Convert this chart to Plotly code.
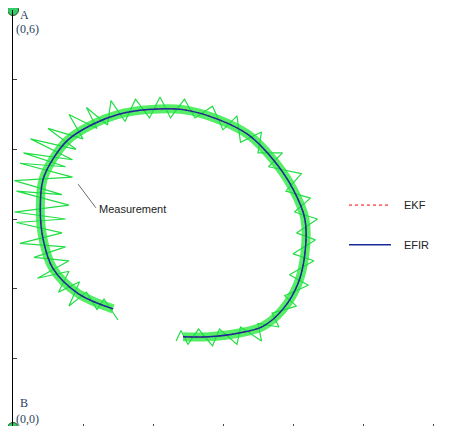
import plotly.graph_objects as go

# EFIR / EKF estimated trajectory (data units)
est_x = [1.43, 0.93, 0.57, 0.43, 0.39, 0.43, 0.57, 0.79, 1.14, 1.50, 1.93, 2.43,
         2.93, 3.36, 3.71, 4.00, 4.17, 4.17, 4.07, 3.86, 3.57, 3.21, 2.79, 2.43]
est_y = [1.71, 1.93, 2.29, 2.71, 3.14, 3.57, 3.86, 4.14, 4.36, 4.50, 4.57, 4.57,
         4.43, 4.21, 3.86, 3.43, 3.00, 2.50, 2.07, 1.71, 1.46, 1.36, 1.31, 1.31]

meas_x = [1.50, 1.30, 1.20, 1.05, 0.80, 0.95, 0.65, 0.80, 0.35, 0.80, 0.30, 0.75,
          0.10, 0.70, 0.05, 0.75, 0.02, 0.80, 0.05, 0.70, 0.02, 0.85, 0.10, 0.75,
          0.15, 0.85, 0.25, 0.90, 0.50, 1.00, 0.80, 1.20, 1.05, 1.35, 1.40, 1.60,
          1.75, 1.95, 2.10, 2.25, 2.45, 2.60, 2.85, 3.00, 3.20, 3.25, 3.55, 3.50,
          3.85, 3.65, 4.12, 3.90, 4.25, 4.02, 4.35, 4.05, 4.32, 4.00, 4.30, 3.95,
          4.22, 3.88, 4.05, 3.70, 3.80, 3.50, 3.55, 3.25, 3.20, 2.95, 2.85, 2.65,
          2.50, 2.40, 2.33]
meas_y = [1.55, 1.85, 1.70, 1.95, 1.75, 2.10, 1.95, 2.25, 2.15, 2.40, 2.45, 2.60,
          2.65, 2.80, 2.95, 3.00, 3.10, 3.20, 3.40, 3.35, 3.55, 3.60, 3.80, 3.75,
          3.95, 3.85, 4.15, 4.00, 4.30, 4.15, 4.50, 4.30, 4.60, 4.35, 4.70, 4.40,
          4.72, 4.45, 4.75, 4.45, 4.72, 4.45, 4.62, 4.28, 4.48, 4.10, 4.25, 3.95,
          3.95, 3.75, 3.65, 3.40, 3.30, 3.10, 3.00, 2.80, 2.70, 2.50, 2.40, 2.20,
          2.05, 1.90, 1.75, 1.65, 1.45, 1.50, 1.25, 1.45, 1.20, 1.42, 1.18, 1.42,
          1.20, 1.40, 1.25]

point_x = [0, 0]
point_y = [6, 0]
point_labels = ["A", "B"]
point_coords = ["(0,6)", "(0,0)"]

fig = go.Figure()
fig.add_trace(go.Scatter(x=est_x, y=est_y, mode="lines", line=dict(color="#55ee66", width=9),
                         line_shape="spline", hoverinfo="skip"))
fig.add_trace(go.Scatter(x=meas_x, y=meas_y, mode="lines", line=dict(color="#22dd44", width=1.2)))
fig.add_trace(go.Scatter(x=est_x, y=est_y, mode="lines", line=dict(color="red", width=1, dash="dot"),
                         line_shape="spline"))
fig.add_trace(go.Scatter(x=est_x, y=est_y, mode="lines", line=dict(color="#1a2a9a", width=1.5),
                         line_shape="spline"))
fig.add_trace(go.Scatter(x=point_x, y=point_y, mode="markers", cliponaxis=False,
                         marker=dict(color="#33cc66", size=11, line=dict(color="#225522", width=1))))

for lbl, c, yy in zip(point_labels, point_coords, point_y):
    top = yy > 0
    fig.add_annotation(x=0, y=yy, text=lbl, showarrow=False, xanchor="left", xshift=5,
                       yanchor="top" if top else "bottom", yshift=4 if top else 16,
                       font=dict(size=12, family="Liberation Serif"))
    fig.add_annotation(x=0, y=yy, text=c, showarrow=False, xanchor="left", xshift=1,
                       yanchor="top" if top else "bottom", yshift=-10 if top else 0,
                       font=dict(size=12, family="Liberation Serif"))

fig.add_annotation(x=0.93, y=3.5, ax=1.2, ay=3.14, axref="x", ayref="y", text="", showarrow=True,
                   arrowhead=0, arrowwidth=0.8, arrowcolor="#444")
fig.add_annotation(x=1.2, y=3.14, text="Measurement", showarrow=False, xanchor="left",
                   font=dict(size=11, family="Liberation Sans", color="#222"))

# legend
fig.add_shape(type="line", x0=4.8, x1=5.4, y0=3.2, y1=3.2, line=dict(color="red", width=1, dash="dot"))
fig.add_shape(type="line", x0=4.8, x1=5.4, y0=2.63, y1=2.63, line=dict(color="#1a2a9a", width=1.5))
fig.add_annotation(x=5.55, y=3.2, text="EKF", showarrow=False, xanchor="left",
                   font=dict(size=11, family="Liberation Sans", color="#222"))
fig.add_annotation(x=5.55, y=2.63, text="EFIR", showarrow=False, xanchor="left",
                   font=dict(size=11, family="Liberation Sans", color="#222"))

fig.update_layout(width=474, height=426, margin=dict(l=5, r=0, t=2, b=6),
                  plot_bgcolor="white", paper_bgcolor="white", showlegend=False)
fig.update_xaxes(range=[0, 6.7], showgrid=False, zeroline=False, showline=True, linecolor="black",
                 ticks="inside", ticklen=4, dtick=1, showticklabels=False)
fig.update_yaxes(range=[0, 6], showgrid=False, zeroline=False, showline=True, linecolor="black",
                 ticks="inside", ticklen=4, dtick=1, showticklabels=False)

fig.write_html("out.html")
